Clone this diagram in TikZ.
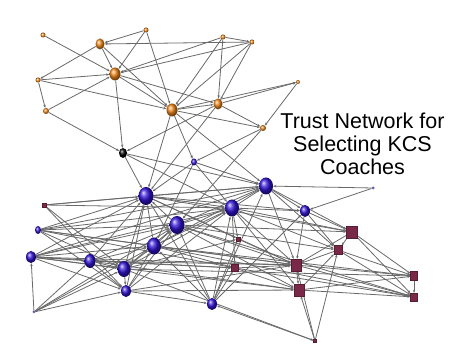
\documentclass[tikz,border=0pt]{standalone}
\usepackage{fontspec}
\setmainfont{Liberation Sans}
\usetikzlibrary{shapes.geometric,arrows.meta}
\pgfdeclarelayer{bg}
\pgfsetlayers{bg,main}
\definecolor{orangeball}{RGB}{240,135,25}
\definecolor{blueball}{RGB}{50,20,215}
\definecolor{sqcol}{RGB}{122,40,72}
\definecolor{edgecol}{RGB}{105,105,105}
\tikzset{
  ball/.style={ellipse,inner sep=0pt,shading=ball,draw=none},
  onode/.style 2 args={ball,ball color=orangeball,minimum width=#1pt,minimum height=#2pt},
  bnode/.style 2 args={ball,ball color=blueball,minimum width=#1pt,minimum height=#2pt},
  knode/.style={ball,ball color=black,minimum width=8pt,minimum height=10pt},
  snode/.style 2 args={rectangle,inner sep=0pt,fill=sqcol,draw=sqcol!70!black,line width=0.3pt,minimum width=#1pt,minimum height=#2pt},
  edge/.style={draw=edgecol,line width=0.8pt,-{Stealth[length=3pt,width=2.4pt]}},
  title/.style={align=center,inner sep=0pt,font=\fontsize{21.5}{23}\selectfont,text=black}
}
\begin{document}
\begin{tikzpicture}[x=1pt,y=-1pt]
\useasboundingbox (0,0) rectangle (474,355);
% orange nodes
\node[onode={5}{5}] (oA) at (43,35) {};
\node[onode={9}{11}] (oB) at (100,44) {};
\node[onode={5}{5}] (oC) at (146,30) {};
\node[onode={5}{5}] (oD) at (223,37) {};
\node[onode={5}{5}] (oE) at (252,42) {};
\node[onode={11}{13}] (oF) at (115,74) {};
\node[onode={5}{5}] (oG) at (38,80) {};
\node[onode={6}{6}] (oH) at (46,111) {};
\node[onode={11}{13}] (oI) at (172,110) {};
\node[onode={9}{11}] (oJ) at (218,104) {};
\node[onode={6}{6}] (oK) at (263,128) {};
\node[onode={4}{4}] (oL) at (298,82) {};
\node[knode] (K) at (123,153) {};
% blue nodes
\node[bnode={6}{7}] (bS) at (194,162) {};
\node[bnode={15}{18}] (b1) at (146,196) {};
\node[bnode={14}{17}] (b2) at (232,208) {};
\node[bnode={15}{18}] (b3) at (177,225) {};
\node[bnode={6}{8}] (b4) at (38,230) {};
\node[bnode={14}{17}] (b5) at (154,246) {};
\node[bnode={10}{12}] (b6) at (31,257) {};
\node[bnode={11}{14}] (b7) at (90,261) {};
\node[bnode={13}{16}] (b8) at (124,269) {};
\node[bnode={10}{12}] (b9) at (126,291) {};
\node[bnode={10}{12}] (b10) at (212,304) {};
\node[bnode={3}{3}] (b11) at (34,312) {};
\node[bnode={14}{17}] (b12) at (266,186) {};
\node[bnode={10}{12}] (b13) at (305,211) {};
\node[bnode={3}{3}] (bT) at (373,188) {};
% squares
\node[snode={4}{4}] (rA) at (44,205) {};
\node[snode={4}{4}] (rB) at (238,239) {};
\node[snode={7}{7}] (rC) at (235,268) {};
\node[snode={11}{12}] (r1) at (352,232) {};
\node[snode={8}{9}] (r2) at (338,250) {};
\node[snode={10}{12}] (r3) at (296,265) {};
\node[snode={10}{12}] (r4) at (299,290) {};
\node[snode={7}{9}] (r5) at (414,276) {};
\node[snode={7}{8}] (r6) at (414,297) {};
\node[snode={3}{3}] (r7) at (315,341) {};
% title
\node[title,anchor=north] (T) at (362.5,113) {Trust Network for\\Selecting KCS\\Coaches};
\begin{pgfonlayer}{bg}
\foreach \a/\b in {oA/oF,oC/oB,oC/oF,oC/oI,oE/oB,oB/oF,oB/oG,oB/oI,oD/oE,oD/oF,oE/oF,oD/oI,oE/oI,oD/oJ,oE/oJ,oG/oF,oG/oI,oG/oH,oH/oF,oH/K,oF/K,oF/oI,oF/oJ,oI/oJ,oI/oK,oJ/oK,oI/oL,oJ/oL,oL/oK,oJ/K,oI/b1,oI/bS,oI/b12,oJ/b1,oK/b3,oK/bS,
K/b1,K/b2,K/b12,
bS/b12,bS/b2,bS/b1,bS/b5,
rA/b1,rA/b2,rA/b8,rA/b9,rA/b12,
b4/b1,b4/b3,b4/b2,b4/b12,b4/b8,b4/b9,b4/r3,b4/b5,b4/rC,
b6/b1,b6/b3,b6/b5,b6/b7,b6/b8,b6/b9,b11/b6,b6/b2,b6/rC,b6/r4,b6/r3,b6/b12,
b11/b7,b11/b8,b11/b9,b11/b5,b11/b3,
b7/b1,b7/b5,b7/b8,b7/b9,b7/b3,b7/rC,b7/r4,b7/r3,
b8/b1,b8/b5,b8/b3,b8/b9,b8/b2,b8/r7,b8/rB,
b9/b1,b9/b5,b9/b3,b9/b2,b9/r3,b9/r4,b9/b10,
b10/b3,b10/b5,b10/b2,b10/b12,b10/rB,b10/rC,r7/b10,b10/b13,b10/b1,
b5/b1,b5/b3,b5/b2,b5/b12,b5/r3,b5/r5,b5/r6,b5/rC,
b3/b2,b3/b12,b3/b1,b3/r3,b3/r4,b3/r1,b3/r6,b3/r2,
b1/b2,b1/b12,b1/b13,b1/r3,b1/rB,b1/r1,
b2/b12,b2/b13,b2/r1,b2/r2,b2/r3,b2/r4,b2/rB,b2/rC,
b12/b13,b12/r1,b12/r3,b12/r2,
b13/r1,b13/r2,b13/r3,
bT/b12,bT/b13,
rB/r3,rC/r4,rC/r3,rC/r6,b8/r5,
r1/r2,r1/r3,r1/r5,r1/r6,r2/r3,r2/r5,r2/r6,r4/r2,r3/r4,r3/r5,r3/r6,r4/r5,r4/r6,r5/r6,r7/r4,r7/r2,r7/r3}
  \draw[edge] (\a) -- (\b);
\end{pgfonlayer}
\end{tikzpicture}
\end{document}
